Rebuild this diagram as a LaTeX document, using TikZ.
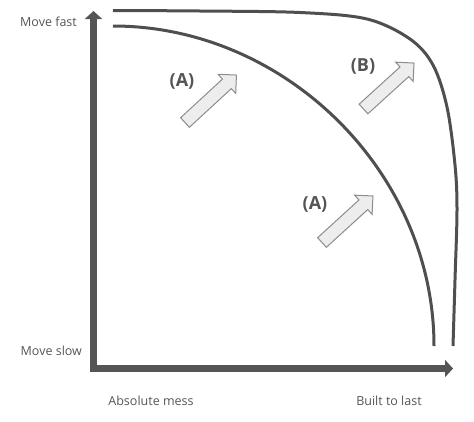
\documentclass[tikz,border=0pt]{standalone}
\usepackage{fontspec}
\setmainfont{Open Sans}
\usetikzlibrary{arrows.meta}
\definecolor{axisgray}{HTML}{555555}
\definecolor{curvegray}{HTML}{4F4F4F}
\definecolor{textgray}{HTML}{555555}
\definecolor{arrfill}{HTML}{EDEDED}
\definecolor{arredge}{HTML}{8C8C8C}
\newcommand\blockarr[3]{%
  \begin{scope}[shift={#1},rotate=#2]
    \draw[blockarrow] (0,-6.5) -- ({#3-13},-6.5) -- ({#3-13},-13) -- (#3,0)
      -- ({#3-13},13) -- ({#3-13},6.5) -- (0,6.5) -- cycle;
  \end{scope}}
\begin{document}
\begin{tikzpicture}[x={(1pt,0)},y={(0,-1pt)},
  axis/.style={draw=axisgray,line width=7pt,line join=miter},
  curve/.style={draw=curvegray,line width=3pt},
  axislabel/.style={text=textgray,font=\fontsize{12.5}{15}\selectfont,inner sep=0pt,anchor=base},
  letter/.style={text=textgray,font=\fontsize{18}{20}\selectfont\bfseries,inner sep=0pt,anchor=base},
  blockarrow/.style={fill=arrfill,draw=arredge,line width=1pt,line join=miter}]
\useasboundingbox (0,0) rectangle (474,421);
% axes
\coordinate (ytop) at (93.5,11);
\coordinate (origin) at (93.5,368.5);
\coordinate (xend) at (453,368.5);
\draw[axis,{Triangle[length=8pt,width=17pt]}-{Triangle[length=8pt,width=17pt]}] (ytop) -- (origin) -- (xend);
% curves
\coordinate (innerstart) at (113,26);
\coordinate (innerend) at (434,346);
\draw[curve] (innerstart) .. controls (286,26) and (434,173) .. (innerend);
\draw[curve] plot[smooth,tension=0.55] coordinates {(113,10.5) (200,11) (300,12.5) (367,19) (410,39) (433,65) (447,107) (455,165) (457,210) (455,280) (453,346)};
% block arrows
\blockarr{(185,122.5)}{42.7}{70}
\blockarr{(363.5,109)}{42.3}{68.3}
\blockarr{(322,242.5)}{42.4}{69}
% labels
\node[axislabel,anchor=base west] (fast) at (20,26) {Move fast};
\node[axislabel,anchor=base west] (slow) at (20.5,355) {Move slow};
\node[axislabel] (mess) at (151,405) {Absolute mess};
\node[axislabel] (last) at (389,405) {Built to last};
\node[letter] (a1) at (182,86) {(A)};
\node[letter] (b) at (363,71) {(B)};
\node[letter] (a2) at (315,209.5) {(A)};
\end{tikzpicture}
\end{document}
